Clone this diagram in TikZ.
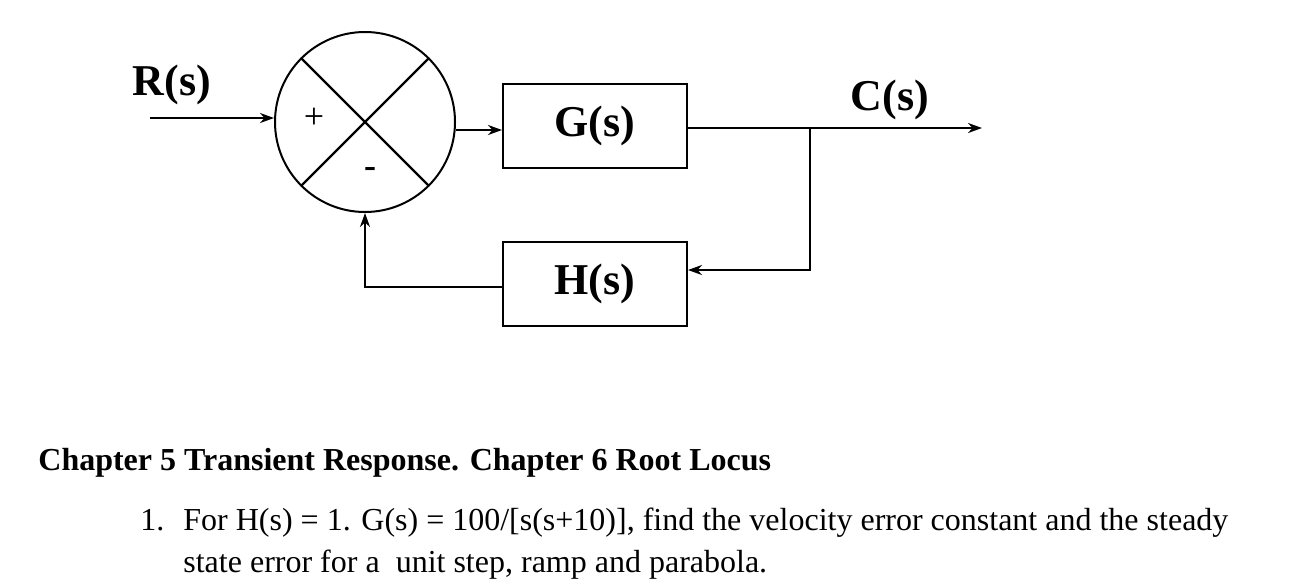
\documentclass[tikz,border=0pt]{standalone}
\usepackage{fontspec}
\setmainfont{Liberation Serif}
\usetikzlibrary{arrows.meta}
\begin{document}
\begin{tikzpicture}[x=0.5pt,y=-0.5pt,
  blk/.style={draw,line width=1pt,minimum width=92pt,minimum height=42pt,inner sep=0pt,font=\fontsize{22}{24}\selectfont\bfseries},
  sig/.style={line width=1.2pt,-{Stealth[length=7pt,width=5pt]}},
  lbl/.style={font=\fontsize{22}{24}\selectfont\bfseries}]
\useasboundingbox (0,0) rectangle (1294,584);
\node[draw,circle,line width=1pt,minimum size=90pt,inner sep=0pt] (sum) at (365,122) {};
\draw[line width=1.2pt] (sum.north west) -- (sum.south east);
\draw[line width=1.2pt] (sum.north east) -- (sum.south west);
\node[font=\fontsize{18}{20}\selectfont] (plus) at (314,118) {+};
\node[font=\fontsize{18}{20}\selectfont\bfseries] (minus) at (370,172) {-};
\node[blk] (G) at (595,126) {G(s)};
\node[blk] (H) at (595,284) {H(s)};
\node[lbl] (R) at (172,85) {R(s)};
\node[lbl] (C) at (890,100) {C(s)};
\coordinate (in) at (150,118);
\coordinate (out) at (982,128);
\coordinate (br) at (810,128);
\coordinate (brd) at (810,270);
\coordinate (fb) at (365,287);
\draw[sig] (in) -- (in -| sum.west);
\draw[sig] (sum.east |- 0,130) -- (G.west |- 0,130);
\draw[sig] (G.east |- out) -- (out);
\draw[sig] (br) -- (brd) -- (H.east |- brd);
\draw[sig] (H.west |- fb) -- (fb) -- (sum.south);
\node[anchor=base west,inner sep=0pt,font=\fontsize{16}{18}\selectfont\bfseries] (hd) at (38,470) {Chapter 5 Transient Response. Chapter 6 Root Locus};
\node[anchor=base west,inner sep=0pt,font=\fontsize{16}{18}\selectfont] (n1) at (140,530) {1.};
\node[anchor=base west,inner sep=0pt,font=\fontsize{16}{18}\selectfont] (t1) at (183,530) {For H(s) = 1. G(s) = 100/[s(s+10)], find the velocity error constant and the steady};
\node[anchor=base west,inner sep=0pt,font=\fontsize{16}{18}\selectfont] (t2) at (183,572) {state error for a\ \ unit step, ramp and parabola.};
\end{tikzpicture}
\end{document}
